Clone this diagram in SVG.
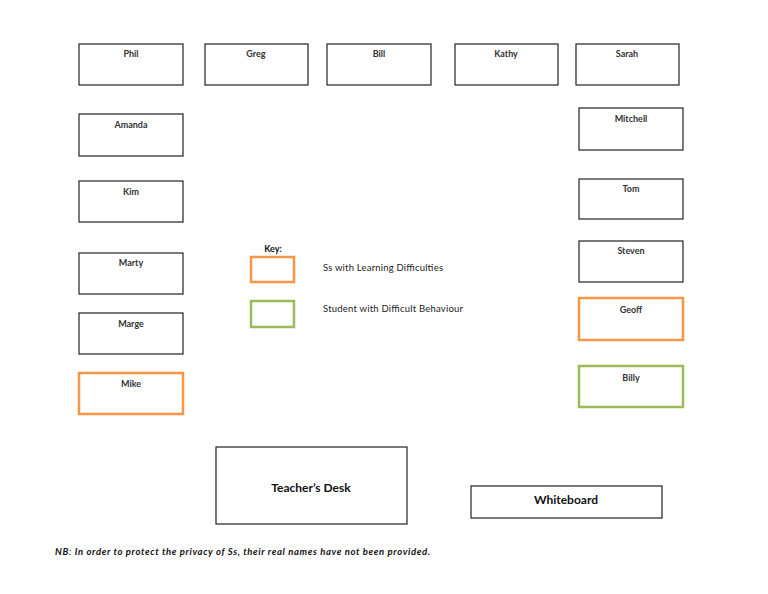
<svg xmlns="http://www.w3.org/2000/svg" width="768" height="594" viewBox="0 0 768 594">
<style>
.box{fill:#fff;stroke:#222;stroke-width:1.2}
.ld{fill:#fff;stroke:#F79646;stroke-width:2.5}
.db{fill:#fff;stroke:#9BBB59;stroke-width:2.5}
.nm{font-family:Lato,"Open Sans","Liberation Sans",sans-serif;font-size:9px;font-weight:bold;fill:#333;text-anchor:middle}
.kt{font-family:Lato,"Open Sans","Liberation Sans",sans-serif;font-size:9.5px;fill:#222}
.big{font-family:Lato,"Open Sans","Liberation Sans",sans-serif;font-size:12px;font-weight:bold;fill:#111;text-anchor:middle}
</style>
<rect width="768" height="594" fill="#fff"/>
<g id="phil"><rect class="box" x="79" y="44" width="104" height="41"/><text class="nm" x="131" y="57">Phil</text></g>
<g id="greg"><rect class="box" x="205" y="44" width="103" height="41"/><text class="nm" x="256" y="57">Greg</text></g>
<g id="bill"><rect class="box" x="327" y="44" width="104" height="41"/><text class="nm" x="379" y="57">Bill</text></g>
<g id="kathy"><rect class="box" x="455" y="44" width="103" height="41"/><text class="nm" x="506" y="57">Kathy</text></g>
<g id="sarah"><rect class="box" x="576" y="44" width="103" height="41"/><text class="nm" x="627" y="57">Sarah</text></g>
<g id="amanda"><rect class="box" x="79" y="114" width="104" height="42"/><text class="nm" x="131" y="128">Amanda</text></g>
<g id="kim"><rect class="box" x="79" y="181" width="104" height="41"/><text class="nm" x="131" y="195">Kim</text></g>
<g id="marty"><rect class="box" x="79" y="253" width="104" height="41"/><text class="nm" x="131" y="266">Marty</text></g>
<g id="marge"><rect class="box" x="79" y="313" width="104" height="41"/><text class="nm" x="131" y="327">Marge</text></g>
<g id="mike"><rect class="ld" x="79" y="373" width="104" height="41"/><text class="nm" x="131" y="387">Mike</text></g>
<g id="mitchell"><rect class="box" x="579" y="108" width="104" height="42"/><text class="nm" x="631" y="122">Mitchell</text></g>
<g id="tom"><rect class="box" x="579" y="179" width="104" height="40"/><text class="nm" x="631" y="192">Tom</text></g>
<g id="steven"><rect class="box" x="579" y="241" width="104" height="41"/><text class="nm" x="631" y="254">Steven</text></g>
<g id="geoff"><rect class="ld" x="579" y="298" width="104" height="42"/><text class="nm" x="631" y="313">Geoff</text></g>
<g id="billy"><rect class="db" x="579" y="366" width="104" height="41"/><text class="nm" x="631" y="381">Billy</text></g>
<g id="key">
<text class="nm" x="273" y="252" style="fill:#111">Key:</text>
<rect class="ld" x="251" y="257" width="43" height="25"/>
<text class="kt" x="323" y="271" textLength="120" lengthAdjust="spacing">Ss with Learning Difficulties</text>
<rect class="db" x="251" y="301" width="43" height="26"/>
<text class="kt" x="323" y="312" textLength="140" lengthAdjust="spacing">Student with Difficult Behaviour</text>
</g>
<g id="desk"><rect class="box" x="216" y="447" width="191" height="77"/><text class="big" x="311" y="492">Teacher’s Desk</text></g>
<g id="whiteboard"><rect class="box" x="471" y="486" width="191" height="32"/><text class="big" x="566" y="504">Whiteboard</text></g>
<g id="connectors"></g>
<text x="55" y="555" textLength="375" lengthAdjust="spacing" style="font-family:Lato,'Open Sans','Liberation Sans',sans-serif;font-size:9.5px;font-weight:bold;font-style:italic;fill:#111">NB<tspan font-weight="normal">:</tspan> In order to protect the privacy of Ss, their real names have not been provided.</text>
</svg>
